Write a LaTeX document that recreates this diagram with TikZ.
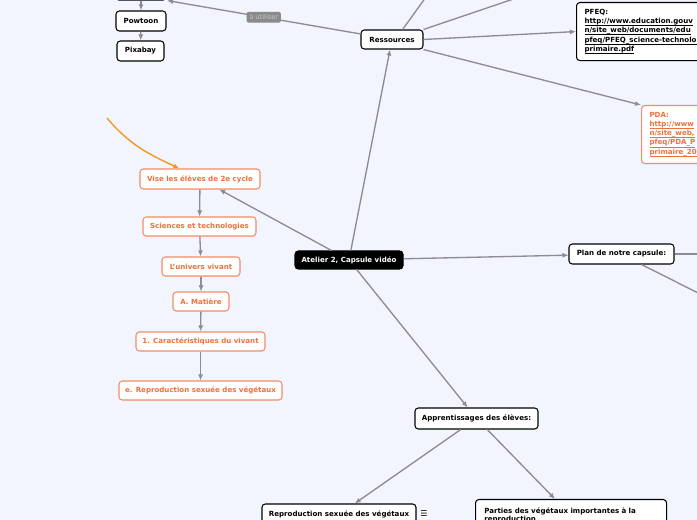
\documentclass[tikz,border=0pt]{standalone}
\usepackage{fontspec}
\setmainfont{DejaVu Sans}
\usetikzlibrary{arrows.meta, positioning}
\definecolor{bgblue}{RGB}{242,244,254}
\definecolor{linkgray}{RGB}{140,140,150}
\definecolor{mmorange}{RGB}{238,112,58}
\definecolor{mmborder}{RGB}{244,140,100}
\definecolor{curveorange}{RGB}{247,148,30}
\definecolor{tagfill}{RGB}{138,138,138}
\definecolor{tagtext}{RGB}{200,200,200}
\newcommand{\urlline}[1]{\underline{\smash{#1}}}

\begin{document}
\begin{tikzpicture}[
      x=0.75pt, y=-0.75pt,
      font=\fontsize{5.3}{6.2}\selectfont\bfseries,
      >={Latex[length=4.5pt,width=3.8pt]},
      box/.style={
        rectangle,
        draw=black,
        line width=0.8pt,
        rounded corners=2.5pt,
        fill=white,
        align=center,
        inner sep=0pt,
        minimum height=15pt
      },
      obox/.style={box, draw=mmborder, text=mmorange},
      rootbox/.style={box, fill=black, text=white},
      textbox/.style={box, anchor=north west, align=left, inner xsep=6pt, inner ysep=5pt,
        font=\fontsize{5.3}{6.3}\selectfont\bfseries},
      link/.style={draw=linkgray, line width=1pt},
      tag/.style={fill=tagfill, text=tagtext, rounded corners=1.5pt, inner sep=2pt,
        font=\fontsize{5}{6}\selectfont\mdseries}
    ]
    \useasboundingbox (0,0) rectangle (697,520);
    \clip (0,0) rectangle (697,520);
    \fill[bgblue] (0,0) rectangle (697,520);

    \node[box, minimum width=38.25pt] (topbox) at (141,-10) {};
    \node[box, minimum width=37.5pt] (powtoon) at (141,21) {Powtoon};
    \node[box, minimum width=35.25pt] (pixabay) at (140.5,51) {Pixabay};
    \node[box, minimum width=46.5pt, minimum height=14.25pt] (res) at (392,39.5) {Ressources};
    \node[textbox, minimum width=105pt, minimum height=39.75pt, text width=100pt] (pfeq) at (576,2)
      {PFEQ:\\[0.6pt]\urlline{http://www.education.gouv}\\[0.6pt]\urlline{n/site\_web/documents/edu}\\[0.6pt]\urlline{pfeq/PFEQ\_science-technolo}\\[0.6pt]\urlline{primaire.pdf}};
    \node[textbox, draw=mmborder, text=mmorange, minimum width=60pt, minimum height=39.75pt, text width=60pt] (pda) at (641,105)
      {PDA:\\[0.6pt]\urlline{http://www}\\[0.6pt]\urlline{n/site\_web,}\\[0.6pt]\urlline{pfeq/PDA\_P}\\[0.6pt]\urlline{primaire\_20}};

    \node[obox, minimum width=90pt] (vise) at (200,179) {Vise les élèves de 2e cycle};
    \node[obox, minimum width=84.75pt, minimum height=14.25pt] (sci) at (199.5,226.5) {Sciences et technologies};
    \node[obox, minimum width=58.5pt, minimum height=14.25pt] (univ) at (201,266.5) {L'univers vivant};
    \node[obox, minimum width=42pt, minimum height=14.25pt] (mat) at (201,301.5) {A. Matière};
    \node[obox, minimum width=96.75pt, minimum height=14.25pt] (carac) at (200.5,341.5) {1. Caractéristiques du vivant};
    \node[obox, minimum width=122.25pt, minimum height=14.25pt] (repro) at (200.5,390.5) {e. Reproduction sexuée des végétaux};

    \node[rootbox, minimum width=81pt, minimum height=13.5pt] (atelier) at (349,260) {Atelier 2, Capsule vidéo};
    \node[box, minimum width=78.75pt] (plan) at (621.5,254) {Plan de notre capsule:};
    \node[box, minimum width=92.25pt, minimum height=15.75pt] (appr) at (476.5,418.5) {Apprentissages des élèves:};
    \node[box, minimum width=115.5pt, minimum height=15.75pt] (reprov) at (339,514.5) {Reproduction sexuée des végétaux};
    \node[fill=white, inner sep=0.5pt, font=\fontsize{6}{6}\selectfont\mdseries] (notes) at (424,514) {☰};
    \node[textbox, minimum width=143.25pt, minimum height=24pt, text width=130pt, inner ysep=4pt] (parties) at (475,499)
      {Parties des végétaux importantes à la\\reproduction};

    \coordinate (upA) at (431,-10);
    \coordinate (upB) at (540,-10);
    \coordinate (planR) at (710,254);
    \coordinate (planD) at (720,304);
    \coordinate (crv) at (107,118);

    \draw[link, ->] (topbox) -- (powtoon);
    \draw[link, ->] (powtoon) -- (pixabay);
    \draw[link, ->] (res.170) -- node[tag] {à utiliser} (topbox.south east);
    \draw[link] (res.north) ++(8pt,0) -- (upA);
    \draw[link] (res.north east) -- (upB);
    \draw[link, ->] (res.east) -- (pfeq.west);
    \draw[link, ->] (res.south east) -- (pda.north west);

    \draw[curveorange, line width=1pt, ->] (crv) to[out=-50, in=155] (vise.153);
    \draw[link, ->] (vise) -- (sci);
    \draw[link, ->] (sci) -- (univ);
    \draw[link, ->] (univ) -- (mat);
    \draw[link, ->] (mat) -- (carac);
    \draw[link, ->] (carac) -- (repro);

    \draw[link, ->] (atelier) -- (vise);
    \draw[link, ->] (atelier) -- (res);
    \draw[link, ->] (atelier) -- (plan);
    \draw[link, ->] (atelier) -- (appr);
    \draw[link] (plan.east) -- (planR);
    \draw[link] (plan.south) ++(15pt,0) -- (planD);
    \draw[link, ->] (appr) -- (reprov);
    \draw[link, ->] (appr) -- (parties);
  \end{tikzpicture}
\end{document}
